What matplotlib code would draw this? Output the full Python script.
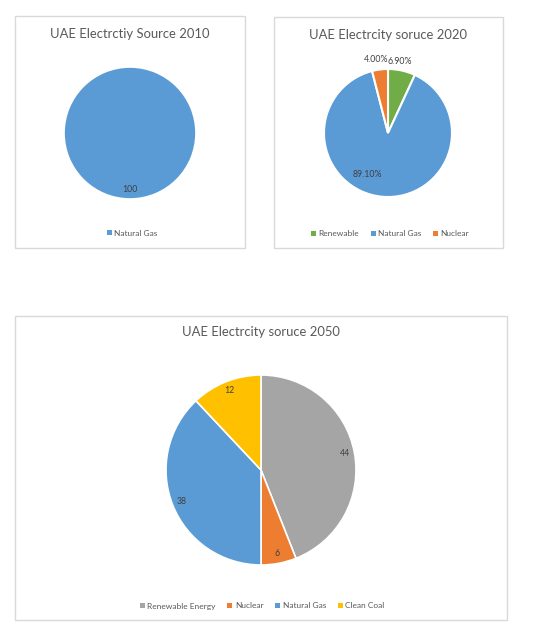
import matplotlib.pyplot as plt
from matplotlib.patches import Rectangle, Patch

plt.rcParams['font.family'] = ['Lato', 'DejaVu Sans']

# data
src_2010 = ["Natural Gas"]
val_2010 = [100]
col_2010 = ["#5B9BD5"]

src_2020 = ["Renewable", "Natural Gas", "Nuclear"]
val_2020 = [6.9, 89.1, 4.0]
col_2020 = ["#70AD47", "#5B9BD5", "#ED7D31"]

src_2050 = ["Renewable Energy", "Nuclear", "Natural Gas", "Clean Coal"]
val_2050 = [44, 6, 38, 12]
col_2050 = ["#A5A5A5", "#ED7D31", "#5B9BD5", "#FFC000"]

W, H = 548, 636
TXT = "#595959"
fig = plt.figure(figsize=(W / 100, H / 100), dpi=100)


def px_box(x0, y0, x1, y1):
    fig.add_artist(Rectangle((x0 / W, 1 - y1 / H), (x1 - x0) / W, (y1 - y0) / H,
                             transform=fig.transFigure, fill=False,
                             edgecolor="#D9D9D9", linewidth=1))


def pie_axes(cx, cy, r):
    ax = fig.add_axes([(cx - r) / W, 1 - (cy + r) / H, 2 * r / W, 2 * r / H])
    return ax


def fix_axes(ax):
    ax.set_xlim(-1, 1)
    ax.set_ylim(-1, 1)
    ax.axis("off")


def legend(names, colors, cx, cy):
    handles = [Patch(facecolor=c, edgecolor="none") for c in colors]
    fig.legend(handles, names, loc="center", bbox_to_anchor=(cx / W, 1 - cy / H),
               ncol=len(names), frameon=False, fontsize=6, labelcolor=TXT,
               handlelength=0.6, handleheight=0.6, handletextpad=0.3,
               columnspacing=1.4)


# ---- 2010 ----
px_box(15, 16, 245, 248)
fig.text(130 / W, 1 - 34 / H, "UAE Electrctiy Source 2010", ha="center", va="center",
         fontsize=9.4, color=TXT)
ax1 = pie_axes(130, 133, 66)
_, t1 = ax1.pie(val_2010, colors=col_2010, startangle=90, counterclock=False,
                labels=[str(v) for v in val_2010], labeldistance=0.86,
                wedgeprops=dict(edgecolor="white", linewidth=1.2))
fix_axes(ax1)
for t in t1:
    t.set_fontsize(6.3)
    t.set_color("#404040")
    t.set_ha("center")
    t.set_va("center")
legend(src_2010, col_2010, 132, 233)

# ---- 2020 ----
px_box(274, 17, 503, 248)
fig.text(388 / W, 1 - 35 / H, "UAE Electrcity soruce 2020", ha="center", va="center",
         fontsize=9.4, color=TXT)
ax2 = pie_axes(388, 133, 64)
_, t2 = ax2.pie(val_2020, colors=col_2020, startangle=90, counterclock=False,
                labels=["%.2f%%" % v for v in val_2020], labeldistance=1.15,
                wedgeprops=dict(edgecolor="white", linewidth=1.5))
fix_axes(ax2)
for t, v in zip(t2, val_2020):
    t.set_fontsize(6.3)
    t.set_color("#404040")
    x, y = t.get_position()
    if v > 50:
        # Excel puts the big slice's label lower-left of centre
        t.set_position((x * 0.62 - 0.25, y * 0.56))
        t.set_ha("center")
    elif x > 0:
        t.set_ha("left")
        t.set_position((x - 0.25, y))
    else:
        t.set_ha("right")
        t.set_position((x + 0.15, y))
    t.set_va("center")
legend(src_2020, col_2020, 390, 234)

# ---- 2050 ----
px_box(15, 316, 507, 620)
fig.text(261 / W, 1 - 332 / H, "UAE Electrcity soruce 2050", ha="center", va="center",
         fontsize=9.4, color=TXT)
ax3 = pie_axes(261, 470, 95)
_, t3 = ax3.pie(val_2050, colors=col_2050, startangle=90, counterclock=False,
                labels=[str(v) for v in val_2050], labeldistance=0.9,
                wedgeprops=dict(edgecolor="white", linewidth=1.2))
fix_axes(ax3)
for t in t3:
    t.set_fontsize(6.3)
    t.set_color("#404040")
    t.set_ha("center")
    t.set_va("center")
legend(src_2050, col_2050, 262, 606)

fig.savefig("out.png", dpi=100, facecolor="white")
